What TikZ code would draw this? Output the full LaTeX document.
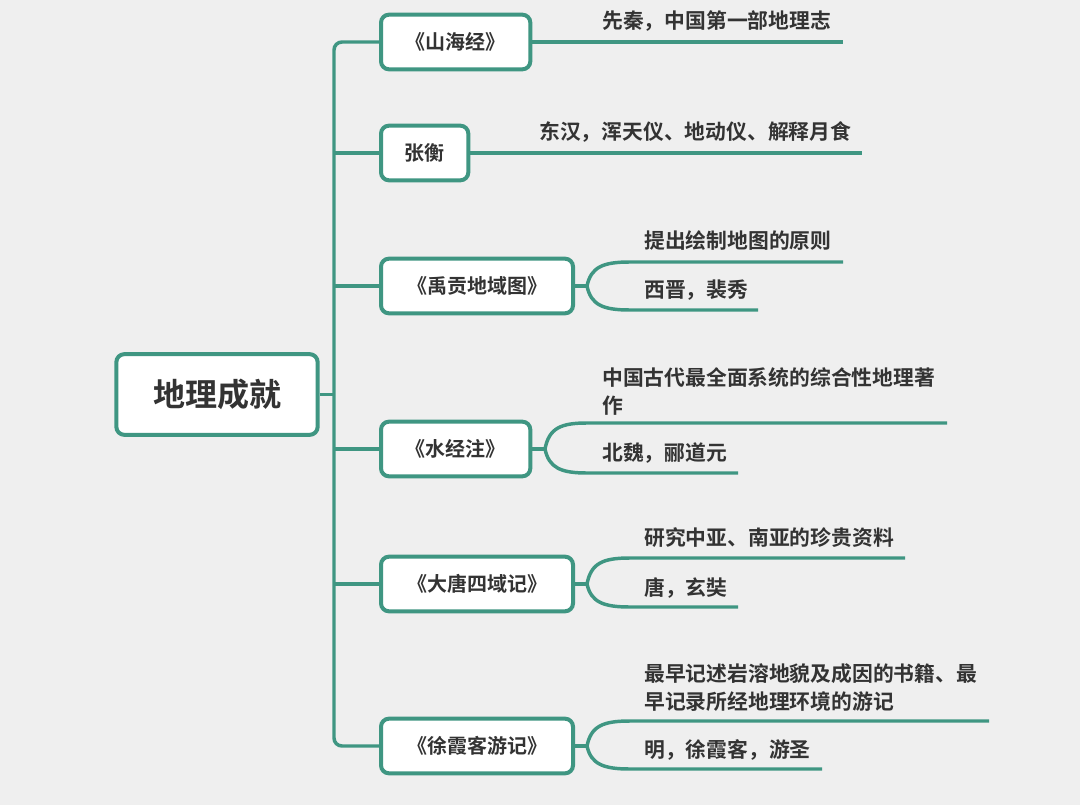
\documentclass[tikz,border=0pt]{standalone}
\usepackage{fontspec}
\setmainfont{Noto Sans CJK SC}[BoldFont={Noto Sans CJK SC Bold}]
\definecolor{bgc}{HTML}{EFEFEF}
\definecolor{lc}{HTML}{3F9682}
\definecolor{tc}{HTML}{333333}
\begin{document}
\begin{tikzpicture}[x=0.75pt,y=-0.75pt,
  conn/.style={draw=lc, line width=2.6pt, line cap=butt},
  box/.style={draw=lc, line width=3pt, fill=white, rounded corners=6pt,
    minimum height=41pt, inner sep=0pt, anchor=west, text=tc,
    font=\fontsize{15}{18}\selectfont\bfseries},
  rootbox/.style={draw=lc, line width=3pt, fill=white, rounded corners=6pt,
    minimum width=151pt, minimum height=60.5pt, inner sep=0pt, text=tc,
    font=\fontsize{24}{28}\selectfont\bfseries},
  leaf/.style={anchor=west, inner sep=0pt, text=tc, align=left,
    font=\fontsize{15.6}{21}\selectfont\bfseries}]
\fill[bgc] (0,0) rectangle (1080,805);
\useasboundingbox (0,0) rectangle (1080,805);

% nodes
\node[rootbox] (root) at (217,394.5) {地理成就};
\node[box, minimum width=112pt] (b1) at (379,42) {《山海经》};
\node[box, minimum width=65.5pt] (b2) at (379,153) {张衡};
\node[box, minimum width=144pt] (b3) at (379,286) {《禹贡地域图》};
\node[box, minimum width=112pt] (b4) at (379,449) {《水经注》};
\node[box, minimum width=144pt] (b5) at (379,584) {《大唐四域记》};
\node[box, minimum width=144pt] (b6) at (379,746) {《徐霞客游记》};

\coordinate (tx) at (334,0);

% trunk
\draw[conn, rounded corners=6pt] (b1.west) -- (b1.west -| tx) |- (b6.west);
\draw[conn] (root.east) -- (root.east -| tx);
\draw[conn] (b2.west) -- (b2.west -| tx);
\draw[conn] (b3.west) -- (b3.west -| tx);
\draw[conn] (b4.west) -- (b4.west -| tx);
\draw[conn] (b5.west) -- (b5.west -| tx);

% leaf end coordinates
\coordinate (e1) at (843,42);
\coordinate (e2) at (862,153);
\coordinate (f3) at (587,286);
\coordinate (e3a) at (843,262);
\coordinate (e3b) at (758,310);
\coordinate (f4) at (545,449);
\coordinate (e4a) at (947,423);
\coordinate (e4b) at (738,473);
\coordinate (f5) at (587,584);
\coordinate (e5a) at (905,558);
\coordinate (e5b) at (738,607);
\coordinate (f6) at (587,746);
\coordinate (e6a) at (989,721);
\coordinate (e6b) at (822,769);

% single leaves
\draw[conn] (b1.east) -- (e1);
\draw[conn] (b2.east) -- (e2);

% forks
\draw[conn] (b3.east) -- (f3);
\draw[conn] (f3) .. controls (591,267) and (603,262) .. (630,262) -- (e3a);
\draw[conn] (f3) .. controls (591,305) and (603,310) .. (630,310) -- (e3b);

\draw[conn] (b4.east) -- (f4);
\draw[conn] (f4) .. controls (549,428) and (561,423) .. (587,423) -- (e4a);
\draw[conn] (f4) .. controls (549,468) and (561,473) .. (587,473) -- (e4b);

\draw[conn] (b5.east) -- (f5);
\draw[conn] (f5) .. controls (591,563) and (603,558) .. (630,558) -- (e5a);
\draw[conn] (f5) .. controls (591,602) and (603,607) .. (630,607) -- (e5b);

\draw[conn] (b6.east) -- (f6);
\draw[conn] (f6) .. controls (591,726) and (603,721) .. (630,721) -- (e6a);
\draw[conn] (f6) .. controls (591,764) and (603,769) .. (630,769) -- (e6b);

% leaf texts
\node[leaf] (t1) at (602,21) {先秦，中国第一部地理志};
\node[leaf] (t2) at (539,132) {东汉，浑天仪、地动仪、解释月食};
\node[leaf] (t3a) at (644,241) {提出绘制地图的原则};
\node[leaf] (t3b) at (644,290) {西晋，裴秀};
\node[leaf] (t4a) at (602,391) {中国古代最全面系统的综合性地理著\\作};
\node[leaf] (t4b) at (602,453) {北魏，郦道元};
\node[leaf] (t5a) at (644,538) {研究中亚、南亚的珍贵资料};
\node[leaf] (t5b) at (644,588) {唐，玄奘};
\node[leaf] (t6a) at (644,688) {最早记述岩溶地貌及成因的书籍、最\\早记录所经地理环境的游记};
\node[leaf] (t6b) at (644,750) {明，徐霞客，游圣};
\end{tikzpicture}
\end{document}
